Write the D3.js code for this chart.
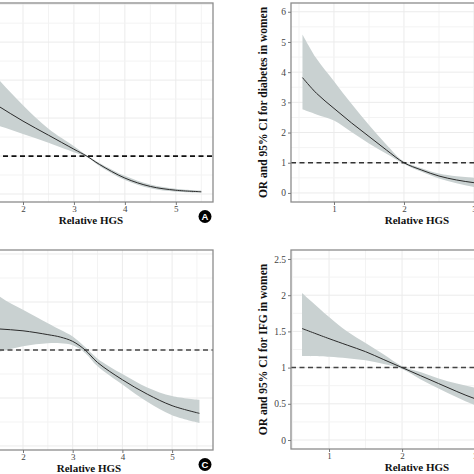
<!DOCTYPE html>
<html>
<head>
<meta charset="utf-8">
<script src="https://cdn.jsdelivr.net/npm/d3@7"></script>
<style>
  html, body { margin: 0; padding: 0; background: #fff; overflow: hidden; }
  svg { display: block; font-family: 'Liberation Serif', 'Times New Roman', serif; }
</style>
</head>
<body>
<div id="chart"></div>
<script>
// panel A: diabetes, men (left part cropped)
const hgsA = [1.0, 1.5, 2.0, 2.5, 3.0, 3.25, 3.5, 4.0, 4.5, 5.0, 5.5];
const orA = [2.75, 2.33, 1.92, 1.55, 1.18, 1.0, 0.78, 0.42, 0.2, 0.1, 0.06];
const loA = [1.9, 1.8, 1.58, 1.35, 1.1, 0.98, 0.74, 0.37, 0.15, 0.06, 0.03];
const hiA = [3.9, 3.05, 2.34, 1.72, 1.26, 1.02, 0.82, 0.48, 0.25, 0.14, 0.09];

// panel B: diabetes, women (right part cropped)
const hgsB = [0.55, 0.75, 1.0, 1.25, 1.5, 1.75, 2.0, 2.25, 2.5, 2.75, 3.0, 3.25];
const orB = [3.82, 3.3, 2.8, 2.32, 1.87, 1.42, 1.0, 0.76, 0.56, 0.43, 0.34, 0.28];
const loB = [2.77, 2.6, 2.4, 2.02, 1.64, 1.3, 0.96, 0.7, 0.48, 0.32, 0.2, 0.12];
const hiB = [5.25, 4.45, 3.7, 2.95, 2.25, 1.6, 1.04, 0.82, 0.64, 0.55, 0.5, 0.46];

// panel C: IFG, men
const hgsC = [1.0, 1.5, 2.0, 2.5, 2.75, 3.0, 3.25, 3.5, 4.0, 4.5, 5.0, 5.55];
const orC = [1.24, 1.22, 1.2, 1.16, 1.135, 1.09, 1.0, 0.87, 0.69, 0.54, 0.42, 0.34];
const loC = [0.92, 0.98, 1.04, 1.07, 1.07, 1.05, 0.97, 0.83, 0.64, 0.46, 0.32, 0.24];
const hiC = [1.85, 1.57, 1.42, 1.28, 1.21, 1.14, 1.03, 0.91, 0.75, 0.61, 0.52, 0.48];

// panel D: IFG, women
const hgsD = [0.63, 1.0, 1.25, 1.5, 1.75, 2.0, 2.25, 2.5, 2.75, 3.0, 3.25];
const orD = [1.54, 1.4, 1.31, 1.22, 1.11, 1.0, 0.89, 0.78, 0.67, 0.57, 0.5];
const loD = [1.16, 1.15, 1.13, 1.1, 1.05, 0.98, 0.84, 0.71, 0.59, 0.48, 0.4];
const hiD = [2.03, 1.7, 1.5, 1.34, 1.18, 1.02, 0.94, 0.85, 0.78, 0.72, 0.66];

const xTicksA = [2, 3, 4, 5];
const xTicksB = [1, 2, 3];
const yTicksB = [0, 1, 2, 3, 4, 5, 6];
const yTicksD = [0, 0.5, 1, 1.5, 2, 2.5];

const xTitle = 'Relative HGS';
const yTitleB = 'OR and 95% CI for diabetes in women';
const yTitleD = 'OR and 95% CI for IFG in women';

const W = 474, H = 474;
const svg = d3.select('#chart').append('svg').attr('width', W).attr('height', H);

const panels = [
  { x: hgsA, or: orA, lo: loA, hi: hiA, xDom: [0.94, 5.73], yDom: [-0.21, 5.03], left: -31, right: 213, top: 3, bottom: 202,
    xTicks: xTicksA, xMinor: 0.5, yMinor: 0.5, badge: 'A', refW: 1.8, refColor: '#111' },
  { x: hgsB, or: orB, lo: loB, hi: hiB, xDom: [0.386, 3.986], yDom: [-0.3, 6.29], left: 291, right: 543, top: 3, bottom: 202,
    xTicks: xTicksB, yTicks: yTicksB, yTitle: yTitleB, xMinor: 0.5, yMinor: 0.5, refW: 1.5, refColor: '#333' },
  { x: hgsC, or: orC, lo: loC, hi: hiC, xDom: [0.833, 5.823], yDom: [-0.042, 2.042], left: -35, right: 213, top: 250, bottom: 450,
    xTicks: xTicksA, xMinor: 0.5, yMinor: 0.25, badge: 'C', refW: 1.5, refColor: '#444' },
  { x: hgsD, or: orD, lo: loD, hi: hiD, xDom: [0.479, 3.93], yDom: [-0.124, 2.624], left: 291, right: 543, top: 250, bottom: 449,
    xTicks: xTicksB, yTicks: yTicksD, yTitle: yTitleD, xMinor: 0.5, yMinor: 0.25, refW: 1.5, refColor: '#444' },
];

panels.forEach((p) => {
  const x = d3.scaleLinear().domain(p.xDom).range([p.left, p.right]);
  const y = d3.scaleLinear().domain(p.yDom).range([p.bottom, p.top]);
  const g = svg.append('g');

  // grid, majors slightly darker than minors
  const xs = d3.range(Math.ceil(p.xDom[0] / p.xMinor) * p.xMinor, p.xDom[1], p.xMinor);
  const ys = d3.range(Math.ceil(p.yDom[0] / p.yMinor) * p.yMinor, p.yDom[1], p.yMinor);
  g.selectAll('.gx').data(xs).join('line')
    .attr('x1', (d) => x(d)).attr('x2', (d) => x(d)).attr('y1', p.top).attr('y2', p.bottom)
    .attr('stroke', (d) => (Math.abs(d - Math.round(d)) < 1e-6 ? '#ebebeb' : '#f3f3f3')).attr('stroke-width', 1);
  g.selectAll('.gy').data(ys).join('line')
    .attr('y1', (d) => y(d)).attr('y2', (d) => y(d)).attr('x1', p.left).attr('x2', p.right)
    .attr('stroke', (d, i) => (i % 2 === 0 ? '#ebebeb' : '#f3f3f3')).attr('stroke-width', 1);

  const rows = p.x.map((v, i) => ({ v, or: p.or[i], lo: p.lo[i], hi: p.hi[i] }));
  const curve = d3.curveCatmullRom.alpha(0.5);
  g.append('path').datum(rows)
    .attr('d', d3.area().x((d) => x(d.v)).y0((d) => y(d.lo)).y1((d) => y(d.hi)).curve(curve))
    .attr('fill', '#c9d1d1');

  g.append('line').attr('x1', p.left).attr('x2', p.right).attr('y1', y(1)).attr('y2', y(1))
    .attr('stroke', p.refColor).attr('stroke-width', p.refW).attr('stroke-dasharray', '5,3.5');

  g.append('path').datum(rows)
    .attr('d', d3.line().x((d) => x(d.v)).y((d) => y(d.or)).curve(curve))
    .attr('fill', 'none').attr('stroke', '#2a2a2a').attr('stroke-width', 1);

  g.append('rect').attr('x', p.left).attr('y', p.top).attr('width', p.right - p.left).attr('height', p.bottom - p.top)
    .attr('fill', 'none').attr('stroke', '#8c8c8c').attr('stroke-width', 1.3);

  // x axis
  const xa = g.append('g').attr('transform', `translate(0,${p.bottom})`)
    .call(d3.axisBottom(x).tickValues(p.xTicks).tickFormat(d3.format('d')).tickSize(3).tickPadding(1));
  xa.select('.domain').remove();
  xa.selectAll('line').attr('stroke', '#777');
  xa.selectAll('text').attr('font-size', 9).attr('fill', '#444').attr('font-family', 'Liberation Serif');

  g.append('text').attr('x', (p.left + p.right) / 2).attr('y', p.bottom + 22)
    .attr('text-anchor', 'middle').attr('font-size', 11).attr('font-weight', 'bold').attr('fill', '#111')
    .text(xTitle);

  if (p.yTicks) {
    const ya = g.append('g').attr('transform', `translate(${p.left},0)`)
      .call(d3.axisLeft(y).tickValues(p.yTicks).tickFormat((d) => String(d)).tickSize(3).tickPadding(2));
    ya.select('.domain').remove();
    ya.selectAll('line').attr('stroke', '#777');
    ya.selectAll('text').attr('font-size', 9.5).attr('fill', '#444').attr('font-family', 'Liberation Serif');
    g.append('text')
      .attr('transform', `translate(${p.left - 24},${(p.top + p.bottom) / 2}) rotate(-90)`)
      .attr('text-anchor', 'middle').attr('font-size', 11.5).attr('font-weight', 'bold').attr('fill', '#111')
      .text(p.yTitle);
  }

  if (p.badge) {
    const bx = p.right - 8, by = p.bottom + 14.5;
    g.append('circle').attr('cx', bx).attr('cy', by).attr('r', 6.5).attr('fill', '#000');
    g.append('text').attr('x', bx).attr('y', by + 3.4).attr('text-anchor', 'middle')
      .attr('font-size', 9.5).attr('font-weight', 'bold').attr('fill', '#fff')
      .attr('font-family', 'Liberation Sans, Arial, sans-serif').text(p.badge);
  }
});
</script>
</body>
</html>
